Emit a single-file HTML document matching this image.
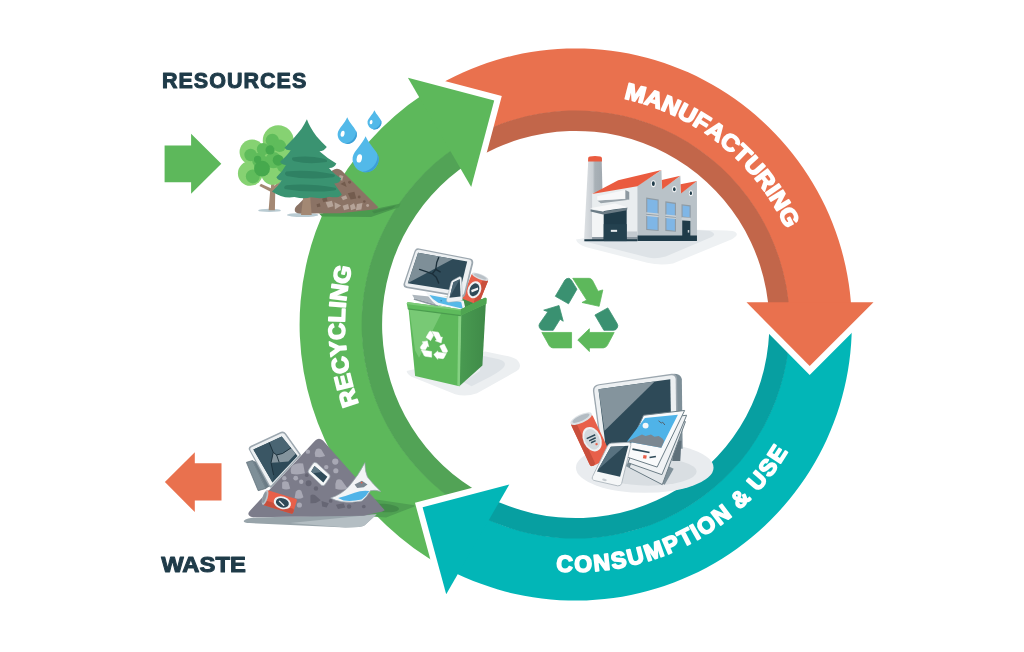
<!DOCTYPE html>
<html><head><meta charset="utf-8"><title>Recycling cycle</title>
<style>
html,body{margin:0;padding:0;background:#fff;}
body{width:1024px;height:652px;overflow:hidden;font-family:"Liberation Sans",sans-serif;}
svg{display:block;font-family:"Liberation Sans",sans-serif;filter:blur(0.45px);}
</style></head><body>
<svg width="1024" height="652" viewBox="0 0 1024 652">
<rect width="1024" height="652" fill="#fff"/>
<path d="M443.96,567.14 A276.1,276.1 0 0 1 423.31,94.26 L457.81,146.38 A213.6,213.6 0 0 0 473.78,512.22 Z" fill="#5DB85B"/>
<path d="M473.54,512.65 A214.1,214.1 0 0 1 457.53,145.97 L468.84,163.06 A193.6,193.6 0 0 0 483.32,494.64 Z" fill="#52A356"/>
<path d="M431.44,89.09 A276.1,276.1 0 0 1 851.42,310.05 L789.01,313.32 A213.6,213.6 0 0 0 464.09,142.38 Z" fill="#E9714E"/>
<path d="M463.83,141.95 A214.1,214.1 0 0 1 789.51,313.29 L769.03,314.37 A193.6,193.6 0 0 0 474.54,159.43 Z" fill="#C2664A"/>
<path d="M851.71,317.27 A276.1,276.1 0 0 1 448.21,569.40 L477.07,513.97 A213.6,213.6 0 0 0 789.23,318.91 Z" fill="#02B6B7"/>
<path d="M789.73,318.90 A214.1,214.1 0 0 1 476.84,514.41 L486.31,496.23 A193.6,193.6 0 0 0 769.23,319.43 Z" fill="#079FA1"/>
<!-- shadow of dirt pile on green band -->
<path d="M319,213.5 L377,208.6 L400.6,203.6 L399,207.2 L371,217 L322,216.6 Z" fill="#4A9A4E"/>
<path d="M372,211 L396,205.4 L392,208.4 L374,213.6 Z" fill="#438C49"/>
<!-- shadow of waste pile on green band -->
<path d="M366,498 L414.5,505.2 L414.5,506.6 L386,517.5 L366,516 Z" fill="#4FA052"/>
<ellipse cx="384" cy="508" rx="15" ry="4.2" fill="#438C49" transform="rotate(4 384 508)"/>

<polyline points="407.9,77.8 494.2,100.4 471.2,187.1" fill="none" stroke="#fff" stroke-width="12.4" stroke-linejoin="miter" stroke-miterlimit="10"/>
<polyline points="873.5,302.3 809.7,366.1 746.5,302.3" fill="none" stroke="#fff" stroke-width="12.4" stroke-linejoin="miter" stroke-miterlimit="10"/>
<polyline points="446.2,594.2 422.6,507.2 509.3,484.4" fill="none" stroke="#fff" stroke-width="12.4" stroke-linejoin="miter" stroke-miterlimit="10"/>
<polygon points="407.9,77.8 494.2,100.4 471.2,187.1" fill="#5DB85B"/>
<polygon points="873.5,302.3 809.7,366.1 746.5,302.3" fill="#E9714E"/>
<polygon points="446.2,594.2 422.6,507.2 509.3,484.4" fill="#02B6B7"/>
<text transform="translate(633.58,100.87) rotate(14.51) scale(1.0631,1)" text-anchor="middle" font-size="23.0" font-weight="700" fill="#fff" stroke="#fff" stroke-width="1.6" stroke-linejoin="round">M</text>
<text transform="translate(651.67,106.35) rotate(19.20) scale(1.0631,1)" text-anchor="middle" font-size="23.0" font-weight="700" fill="#fff" stroke="#fff" stroke-width="1.6" stroke-linejoin="round">A</text>
<text transform="translate(668.02,112.75) rotate(23.56) scale(1.0631,1)" text-anchor="middle" font-size="23.0" font-weight="700" fill="#fff" stroke="#fff" stroke-width="1.6" stroke-linejoin="round">N</text>
<text transform="translate(683.83,120.37) rotate(27.91) scale(1.0631,1)" text-anchor="middle" font-size="23.0" font-weight="700" fill="#fff" stroke="#fff" stroke-width="1.6" stroke-linejoin="round">U</text>
<text transform="translate(697.88,128.45) rotate(31.93) scale(1.0631,1)" text-anchor="middle" font-size="23.0" font-weight="700" fill="#fff" stroke="#fff" stroke-width="1.6" stroke-linejoin="round">F</text>
<text transform="translate(711.32,137.50) rotate(35.95) scale(1.0631,1)" text-anchor="middle" font-size="23.0" font-weight="700" fill="#fff" stroke="#fff" stroke-width="1.6" stroke-linejoin="round">A</text>
<text transform="translate(725.13,148.34) rotate(40.31) scale(1.0631,1)" text-anchor="middle" font-size="23.0" font-weight="700" fill="#fff" stroke="#fff" stroke-width="1.6" stroke-linejoin="round">C</text>
<text transform="translate(737.11,159.25) rotate(44.33) scale(1.0631,1)" text-anchor="middle" font-size="23.0" font-weight="700" fill="#fff" stroke="#fff" stroke-width="1.6" stroke-linejoin="round">T</text>
<text transform="translate(748.30,170.97) rotate(48.35) scale(1.0631,1)" text-anchor="middle" font-size="23.0" font-weight="700" fill="#fff" stroke="#fff" stroke-width="1.6" stroke-linejoin="round">U</text>
<text transform="translate(759.46,184.52) rotate(52.70) scale(1.0631,1)" text-anchor="middle" font-size="23.0" font-weight="700" fill="#fff" stroke="#fff" stroke-width="1.6" stroke-linejoin="round">R</text>
<text transform="translate(766.57,194.38) rotate(55.72) scale(1.0631,1)" text-anchor="middle" font-size="23.0" font-weight="700" fill="#fff" stroke="#fff" stroke-width="1.6" stroke-linejoin="round">I</text>
<text transform="translate(773.15,204.60) rotate(58.73) scale(1.0631,1)" text-anchor="middle" font-size="23.0" font-weight="700" fill="#fff" stroke="#fff" stroke-width="1.6" stroke-linejoin="round">N</text>
<text transform="translate(781.99,220.54) rotate(63.25) scale(1.0631,1)" text-anchor="middle" font-size="23.0" font-weight="700" fill="#fff" stroke="#fff" stroke-width="1.6" stroke-linejoin="round">G</text>
<text transform="translate(564.21,571.53) rotate(2.66) scale(0.9971,1)" text-anchor="middle" font-size="23.0" font-weight="700" fill="#fff" stroke="#fff" stroke-width="1.6" stroke-linejoin="round">C</text>
<text transform="translate(583.35,571.68) rotate(-1.77) scale(0.9971,1)" text-anchor="middle" font-size="23.0" font-weight="700" fill="#fff" stroke="#fff" stroke-width="1.6" stroke-linejoin="round">O</text>
<text transform="translate(602.46,570.35) rotate(-6.21) scale(0.9971,1)" text-anchor="middle" font-size="23.0" font-weight="700" fill="#fff" stroke="#fff" stroke-width="1.6" stroke-linejoin="round">N</text>
<text transform="translate(620.01,567.80) rotate(-10.32) scale(0.9971,1)" text-anchor="middle" font-size="23.0" font-weight="700" fill="#fff" stroke="#fff" stroke-width="1.6" stroke-linejoin="round">S</text>
<text transform="translate(637.33,564.00) rotate(-14.43) scale(0.9971,1)" text-anchor="middle" font-size="23.0" font-weight="700" fill="#fff" stroke="#fff" stroke-width="1.6" stroke-linejoin="round">U</text>
<text transform="translate(656.34,558.28) rotate(-19.03) scale(0.9971,1)" text-anchor="middle" font-size="23.0" font-weight="700" fill="#fff" stroke="#fff" stroke-width="1.6" stroke-linejoin="round">M</text>
<text transform="translate(674.19,551.34) rotate(-23.47) scale(0.9971,1)" text-anchor="middle" font-size="23.0" font-weight="700" fill="#fff" stroke="#fff" stroke-width="1.6" stroke-linejoin="round">P</text>
<text transform="translate(688.93,544.36) rotate(-27.25) scale(0.9971,1)" text-anchor="middle" font-size="23.0" font-weight="700" fill="#fff" stroke="#fff" stroke-width="1.6" stroke-linejoin="round">T</text>
<text transform="translate(698.89,538.93) rotate(-29.88) scale(0.9971,1)" text-anchor="middle" font-size="23.0" font-weight="700" fill="#fff" stroke="#fff" stroke-width="1.6" stroke-linejoin="round">I</text>
<text transform="translate(710.39,531.90) rotate(-33.00) scale(0.9971,1)" text-anchor="middle" font-size="23.0" font-weight="700" fill="#fff" stroke="#fff" stroke-width="1.6" stroke-linejoin="round">O</text>
<text transform="translate(726.03,520.86) rotate(-37.44) scale(0.9971,1)" text-anchor="middle" font-size="23.0" font-weight="700" fill="#fff" stroke="#fff" stroke-width="1.6" stroke-linejoin="round">N</text>
<text transform="translate(745.47,504.32) rotate(-43.35) scale(0.9971,1)" text-anchor="middle" font-size="23.0" font-weight="700" fill="#fff" stroke="#fff" stroke-width="1.6" stroke-linejoin="round">&amp;</text>
<text transform="translate(763.10,485.86) rotate(-49.27) scale(0.9971,1)" text-anchor="middle" font-size="23.0" font-weight="700" fill="#fff" stroke="#fff" stroke-width="1.6" stroke-linejoin="round">U</text>
<text transform="translate(774.19,472.01) rotate(-53.38) scale(0.9971,1)" text-anchor="middle" font-size="23.0" font-weight="700" fill="#fff" stroke="#fff" stroke-width="1.6" stroke-linejoin="round">S</text>
<text transform="translate(783.87,458.00) rotate(-57.33) scale(0.9971,1)" text-anchor="middle" font-size="23.0" font-weight="700" fill="#fff" stroke="#fff" stroke-width="1.6" stroke-linejoin="round">E</text>
<text transform="translate(355.99,395.82) rotate(252.02) scale(1.0221,1)" text-anchor="middle" font-size="23.0" font-weight="700" fill="#fff" stroke="#fff" stroke-width="1.6" stroke-linejoin="round">R</text>
<text transform="translate(351.48,380.05) rotate(256.08) scale(1.0221,1)" text-anchor="middle" font-size="23.0" font-weight="700" fill="#fff" stroke="#fff" stroke-width="1.6" stroke-linejoin="round">E</text>
<text transform="translate(348.10,364.00) rotate(260.15) scale(1.0221,1)" text-anchor="middle" font-size="23.0" font-weight="700" fill="#fff" stroke="#fff" stroke-width="1.6" stroke-linejoin="round">C</text>
<text transform="translate(345.87,347.75) rotate(264.22) scale(1.0221,1)" text-anchor="middle" font-size="23.0" font-weight="700" fill="#fff" stroke="#fff" stroke-width="1.6" stroke-linejoin="round">Y</text>
<text transform="translate(344.80,331.39) rotate(268.29) scale(1.0221,1)" text-anchor="middle" font-size="23.0" font-weight="700" fill="#fff" stroke="#fff" stroke-width="1.6" stroke-linejoin="round">C</text>
<text transform="translate(344.87,315.65) rotate(272.20) scale(1.0221,1)" text-anchor="middle" font-size="23.0" font-weight="700" fill="#fff" stroke="#fff" stroke-width="1.6" stroke-linejoin="round">L</text>
<text transform="translate(345.51,305.17) rotate(274.80) scale(1.0221,1)" text-anchor="middle" font-size="23.0" font-weight="700" fill="#fff" stroke="#fff" stroke-width="1.6" stroke-linejoin="round">I</text>
<text transform="translate(346.80,293.44) rotate(277.73) scale(1.0221,1)" text-anchor="middle" font-size="23.0" font-weight="700" fill="#fff" stroke="#fff" stroke-width="1.6" stroke-linejoin="round">N</text>
<text transform="translate(349.85,275.99) rotate(282.12) scale(1.0221,1)" text-anchor="middle" font-size="23.0" font-weight="700" fill="#fff" stroke="#fff" stroke-width="1.6" stroke-linejoin="round">G</text>
<text x="161.9" y="88.3" font-size="21.5" font-weight="700" fill="#1F3B49" stroke="#1F3B49" stroke-width="1" stroke-linejoin="round" textLength="144.4" lengthAdjust="spacing">RESOURCES</text>
<text x="161.2" y="572.3" font-size="21.5" font-weight="700" fill="#1F3B49" stroke="#1F3B49" stroke-width="1" stroke-linejoin="round" textLength="84.6" lengthAdjust="spacingAndGlyphs">WASTE</text>
<polygon points="164.6,145.4 191.1,145.4 191.1,133.7 221.3,163.8 191.1,193.7 191.1,182.2 164.6,182.2" fill="#5DB85B"/>
<polygon points="221.5,463.3 194.8,463.3 194.8,452.2 164.9,482.1 194.8,512.1 194.8,500.6 221.5,500.6" fill="#E9714E"/>
<g id="recycle"><g transform="translate(535,272) scale(0.13196)">
<g fill="#5DB85B" stroke="#5DB85B" stroke-width="6" stroke-linejoin="round">
<path d="M286,48 L412,48 Q428,50 436,64 L478,146 L514,136 L486,260 L356,231 L392,213 Z"/>
<path d="M52,458 L277,458 L277,575 L135,575 Q118,574 108,558 Z"/>
<path d="M324,515 L412,430 L412,458 L600,458 L548,556 Q538,574 518,575 L412,575 L412,603 Z"/>
</g>
<g fill="#3A9171" stroke="#3A9171" stroke-width="6" stroke-linejoin="round">
<path d="M154,184 L226,62 Q236,48 254,48 Q266,48 276,62 L318,130 L254,241 Z"/>
<path d="M182,254 L66,289 L98,301 L34,392 Q26,406 34,422 Q44,442 62,442 L138,442 L190,358 L214,373 Z"/>
<path d="M552,272 L622,390 Q632,406 624,422 Q614,442 596,442 L522,442 L454,326 Z"/>
</g>
</g>
</g>
<g id="trees"><g transform="translate(230,105) scale(0.184)">
<!-- ground shadows -->
<ellipse cx="215" cy="573" rx="62" ry="9" fill="#B9CBD2"/>
<ellipse cx="395" cy="598" rx="85" ry="11" fill="#B9CBD2"/>
<!-- deciduous tree trunk -->
<path d="M210,572 L218,470 L160,440 L168,428 L222,452 L226,395 L242,395 L242,440 L266,408 L276,416 L246,472 L244,572 Z" fill="#A38873"/>
<!-- light foliage -->
<g fill="#86D272">
<circle cx="262" cy="194" r="84"/><circle cx="120" cy="256" r="68"/><circle cx="110" cy="372" r="67"/>
<circle cx="232" cy="372" r="62"/><circle cx="190" cy="300" r="80"/><circle cx="300" cy="290" r="60"/>
</g>
<g fill="#5FBC5B">
<circle cx="112" cy="272" r="34"/><circle cx="124" cy="388" r="38"/><circle cx="230" cy="192" r="36"/>
<circle cx="270" cy="222" r="34"/><circle cx="160" cy="300" r="40"/><circle cx="236" cy="300" r="44"/><circle cx="180" cy="240" r="34"/>
<circle cx="290" cy="330" r="36"/>
</g>
<g fill="#46A94D">
<circle cx="174" cy="346" r="43"/><circle cx="218" cy="244" r="25"/><circle cx="262" cy="300" r="30"/><circle cx="150" cy="296" r="20"/>
</g>
<!-- dirt pile -->
<path d="M352,572 Q350,556 372,540 L556,356 Q582,338 606,356 L806,556 Q800,566 780,568 L600,588 L380,590 Q352,588 352,572 Z" fill="#8B7365"/>
<g fill="#B5A398">
<path d="M520,528 l34,-8 l8,30 l-30,8 z"/><path d="M568,528 l36,18 l-34,22 z"/><path d="M612,548 l30,-10 l6,26 l-28,8 z"/>
<path d="M652,546 l22,-12 l10,28 l-26,10 z"/><path d="M690,538 l30,-6 l-6,36 l-30,4 z"/><circle cx="748" cy="546" r="8"/>
<path d="M596,380 l20,6 l-6,26 l-20,-8 z"/><path d="M604,500 l26,-10 l8,18 l-24,10 z"/>
</g>
<g fill="#735C4E">
<path d="M640,480 l36,-8 l10,36 l-30,6 z"/><path d="M600,430 l24,-14 l10,30 z"/><circle cx="650" cy="420" r="8"/><circle cx="702" cy="500" r="8"/>
<path d="M500,510 l24,-10 l6,20 l-22,8 z"/><path d="M470,540 l18,-6 l4,18 l-18,4 z"/><circle cx="730" cy="524" r="7"/>
</g>
<!-- conifer trunk -->
<path d="M398,500 L436,500 L444,598 L386,598 Z" fill="#A38873"/>
<!-- conifer -->
<path d="M418,78 Q432,120 470,170 Q500,205 526,228 Q510,250 486,252 Q530,292 578,318 Q566,344 538,342 Q570,380 604,398 Q596,428 566,426 Q590,460 608,486 Q590,510 540,498 Q500,512 440,502 Q400,512 350,500 Q290,512 228,470 Q260,444 280,410 Q262,410 252,392 Q286,362 304,326 Q284,326 272,308 Q312,274 330,246 Q306,248 296,232 Q350,180 388,130 Q408,100 418,78 Z" fill="#3A9371"/>
<g fill="#2F8163">
<path d="M340,286 Q420,272 510,292 Q536,300 524,310 Q430,324 350,306 Q330,298 340,286 Z"/>
<path d="M306,362 Q420,348 562,376 Q580,386 560,392 Q430,410 308,386 Q290,374 306,362 Z"/>
<path d="M306,436 Q430,424 572,450 Q586,460 566,464 Q430,480 298,456 Q288,444 306,436 Z"/>
</g>
<!-- drops -->
<g>
<path d="M637,66 C650.5,99.5 683.3,125.8 688.5,151.8 A52,52 0 1 1 585.5,151.8 C590.7,125.8 623.5,99.5 637,66 Z" fill="#52B9E9"/>
<path d="M684.1,137.0 A52,52 0 0 1 623.5,209.2 A65.0,65.0 0 0 0 684.1,137.0 Z" fill="#3C9FD6"/>
<ellipse cx="612.0" cy="156.4" rx="10.4" ry="16.6" fill="#fff" transform="rotate(12 612.0 156.4)"/>
<path d="M785,28 C794.9,52.1 818.8,70.7 822.6,89.7 A38,38 0 1 1 747.4,89.7 C751.2,70.7 775.1,52.1 785,28 Z" fill="#52B9E9"/>
<path d="M819.4,78.9 A38,38 0 0 1 775.2,131.7 A47.5,47.5 0 0 0 819.4,78.9 Z" fill="#3C9FD6"/>
<ellipse cx="766.8" cy="93.1" rx="7.6" ry="12.2" fill="#fff" transform="rotate(12 766.8 93.1)"/>
<path d="M737,170 C755.5,214.6 800.2,248.6 807.3,284.1 A71,71 0 1 1 666.7,284.1 C673.8,248.6 718.5,214.6 737,170 Z" fill="#52B9E9"/>
<path d="M801.3,264.0 A71,71 0 0 1 718.6,362.6 A88.8,88.8 0 0 0 801.3,264.0 Z" fill="#3C9FD6"/>
<ellipse cx="702.9" cy="290.4" rx="14.2" ry="22.7" fill="#fff" transform="rotate(12 702.9 290.4)"/>
</g>
</g>
</g>
<g id="factory"><g transform="translate(570,145) scale(0.184)">
<defs>
<linearGradient id="chim" x1="0" x2="1" y1="0" y2="0"><stop offset="0" stop-color="#DDE1E4"/><stop offset="0.45" stop-color="#C9CED3"/><stop offset="0.55" stop-color="#A9B1B7"/><stop offset="1" stop-color="#A0A8AF"/></linearGradient>
</defs>
<!-- shadow -->
<path d="M32,514 Q40,540 90,556 L420,640 Q490,656 560,644 L880,512 Q920,490 900,474 Q890,464 850,464 L690,460 L120,500 Z" fill="#EEF1F3"/>
<path d="M70,522 L425,612 Q470,620 520,606 L770,500 Q800,484 760,468 L690,462 L120,505 Z" fill="#DEE3E7"/>
<!-- chimney -->
<path d="M100,70 L172,70 L183,520 L76,520 Z" fill="url(#chim)"/>
<path d="M99,70 Q99,60 136,60 Q173,60 173,70 L174,90 L98,90 Z" fill="#EA5B3F"/>
<!-- front wall -->
<path d="M120,262 L366,220 L366,520 L120,520 Z" fill="#E9EDEF"/>
<!-- side wall -->
<path d="M366,222 L497,137 L500,238 L600,168 L602,262 L690,196 L690,520 L366,520 Z" fill="#B9C2C8"/>
<!-- roofs -->
<path d="M120,266 L262,192 L497,136 L366,224 Z" fill="#EA5B3F"/>
<path d="M499,190 L600,167 L501,240 Z" fill="#EA5B3F"/>
<path d="M601,213 L690,195 L603,263 Z" fill="#EA5B3F"/>
<!-- dark base -->
<path d="M366,492 L690,492 L690,522 L366,522 Z" fill="#1F3B49"/>
<path d="M120,498 L366,498 L366,522 L120,522 Z" fill="#8C98A1"/>
<path d="M78,512 L366,512 L366,523 L78,523 Z" fill="#1F3B49"/>
<rect x="310" y="470" width="56" height="30" fill="#C3CAD0"/>
<!-- garage door -->
<path d="M183,345 L308,345 L308,522 L183,522 Z" fill="#1F3B49"/>
<path d="M183,430 L308,430 L308,522 L183,522 Z" fill="#24414F"/>
<rect x="222" y="461" width="34" height="11" fill="#E6EAED"/>
<!-- pillar -->
<path d="M120,355 L180,355 L180,500 L120,500 Z" fill="#F3F5F6"/>
<!-- canopy box -->
<path d="M300,244 L322,256 L322,298 L300,292 Z" fill="#8E99A1"/>
<path d="M148,302 L300,292 L322,298 L168,316 Z" fill="#9AA4AB"/>
<path d="M148,278 L300,244 L300,292 L148,302 Z" fill="#F7F8F9"/>
<!-- awning -->
<path d="M112,350 L180,362 L312,340 L310,354 L180,378 L112,362 Z" fill="#6B7C86"/>
<path d="M108,344 L245,318 L312,338 L178,360 Z" fill="#F7F8F9"/>
<!-- round windows -->
<ellipse cx="453" cy="210" rx="13" ry="19" fill="#F2F4F5"/><ellipse cx="453" cy="210" rx="8" ry="13" fill="#1F3B49"/>
<ellipse cx="567" cy="240" rx="12" ry="17" fill="#F2F4F5"/><ellipse cx="567" cy="240" rx="7" ry="11" fill="#1F3B49"/>
<ellipse cx="657" cy="262" rx="11" ry="16" fill="#F2F4F5"/><ellipse cx="657" cy="262" rx="6" ry="10" fill="#1F3B49"/>
<!-- windows -->
<path d="M414,286 L482,296 L482,468 L414,462 Z" fill="#8F9BA4"/>
<path d="M420,294 L476,302 L476,462 L420,456 Z" fill="#7FB6E6"/>
<path d="M414,366 L482,372 L482,392 L414,386 Z" fill="#C9D0D5"/><path d="M414,374 L482,380 L482,385 L414,379 Z" fill="#8F9BA4"/>
<path d="M518,306 L576,314 L576,472 L518,467 Z" fill="#8F9BA4"/>
<path d="M524,314 L570,321 L570,466 L524,461 Z" fill="#7FB6E6"/>
<path d="M518,378 L576,383 L576,402 L518,397 Z" fill="#C9D0D5"/><path d="M518,386 L576,391 L576,396 L518,391 Z" fill="#8F9BA4"/>
<path d="M606,322 L656,328 L656,400 L606,396 Z" fill="#8F9BA4"/>
<path d="M612,329 L650,334 L650,392 L612,389 Z" fill="#7FB6E6"/>
<path d="M606,392 L656,396 L656,410 L606,406 Z" fill="#C9D0D5"/>
<!-- door -->
<path d="M610,410 L654,413 L654,520 L610,520 Z" fill="#1F3B49"/>
<rect x="640" y="462" width="8" height="14" fill="#C9D0D5"/>
</g>
</g>
<g id="bin"><g transform="translate(395,235) scale(0.2455)">
<defs>
<linearGradient id="binside" x1="0" x2="1" y1="0" y2="0"><stop offset="0" stop-color="#499B51"/><stop offset="1" stop-color="#3F8A48"/></linearGradient>
</defs>
<!-- shadow -->
<path d="M 47.3,554.0 Q 50.1,570.7 78.0,581.9 L 245.0,648.7 Q 289.6,661.0 334.2,644.3 L 495.7,554.0 Q 520.7,536.2 501.2,512.8 Q 490.1,498.3 445.5,490.6 L 367.6,475.0 L 167.1,526.2 Z" fill="#ECEFF1"/>
<path d="M 356.4,491.7 L 423.3,506.1 Q 453.9,515.1 446.7,532.9 Q 440.0,549.6 389.8,576.3 L 311.9,616.4 L 278.5,598.6 L 345.3,554.0 Z" fill="#DEE3E7"/>
<!-- monitor stand -->
<path d="M70,243 L150,252 L175,285 L78,258 Z" fill="#AEB7BE"/>
<path d="M78,258 L175,285 L172,292 L76,264 Z" fill="#8D98A0"/>
<!-- inside back of bin -->
<path d="M170,285 L200,250 L370,262 L268,308 Z" fill="#3F8F48"/>
<!-- can -->
<g transform="translate(326,222) rotate(22)">
<rect x="-36" y="-58" width="72" height="112" rx="8" fill="#E8604A"/>
<rect x="14" y="-58" width="22" height="112" rx="8" fill="#C94F3C"/>
<ellipse cx="0" cy="-56" rx="36" ry="11" fill="#D9DEE2"/>
<ellipse cx="0" cy="-57" rx="28" ry="7" fill="#B9C1C7"/>
<ellipse cx="-2" cy="2" rx="27" ry="36" fill="#F0F2F4"/>
<ellipse cx="-2" cy="2" rx="19" ry="27" fill="#2E4A58"/>
<path d="M-14,8 L8,-12 L12,-4 L-8,16 Z" fill="#F0F2F4"/>
</g>
<!-- blue paper -->
<path d="M126,232 L212,252 L280,268 L290,316 L226,296 L168,284 Q140,262 126,232 Z" fill="#F4F6F8"/>
<path d="M140,244 L210,258 L270,274 L276,300 L226,288 L176,276 Q152,262 140,244 Z" fill="#56B9E8"/>
<circle cx="188" cy="268" r="3" fill="#3A7FA8"/>
<!-- monitor -->
<path d="M98,55 L306,96 Q322,100 318,118 L286,244 Q282,256 266,254 L46,216 Q30,212 36,196 L80,64 Q86,52 98,55 Z" fill="#9CA7AF"/>
<path d="M98,60 L302,100 Q314,103 311,116 L281,238 Q278,248 266,246 L50,210 Q38,207 42,196 L84,68 Q88,58 98,60 Z" fill="#EDF0F2"/>
<path d="M94,72 L294,108 L264,230 L52,197 Z" fill="#2E4A58"/>
<path d="M94,72 L236,98 L53,196 Z" fill="#7E8F98"/>
<path d="M178,92 L170,112 L166,140 L152,158 L130,150 L100,140 M152,158 L168,172 L178,196 M166,140 L184,150" fill="none" stroke="#1B2F3A" stroke-width="5.5" stroke-linejoin="round" stroke-linecap="round"/>
<!-- phone -->
<path d="M236,184 L262,170 Q270,168 271,176 L275,262 Q275,268 268,269 L218,274 Q208,274 210,264 L228,194 Q230,187 236,184 Z" fill="#EEF1F3" stroke="#A9B3BA" stroke-width="2"/>
<path d="M238,192 L264,180 L267,250 L222,256 Z" fill="#2E4A58"/>
<path d="M238,192 L264,180 L225,250 L222,256 Z" fill="#4A6573"/>
<!-- bin front -->
<path d="M55,298 L268,325 L262,616 L82,574 Z" fill="#5DB85B"/>
<path d="M58,300 L190,316 L98,500 L82,470 Z" fill="#78C975"/>
<!-- bin side -->
<path d="M268,325 L370,279 L356,532 L262,616 Z" fill="url(#binside)"/>
<path d="M258,324 L270,326 L264,616 L254,613 Z" fill="#85D182"/>
<!-- rim -->
<path d="M48,280 Q47,272 56,274 L268,302 L366,256 Q374,254 373,262 L372,280 L268,328 L52,300 Z" fill="#5EBB5C"/>
<path d="M268,302 L366,256 Q374,254 373,262 L372,280 L268,328 Z" fill="#4FA552"/>
<path d="M48,280 Q47,272 56,274 L268,302 L268,308 L50,282 Z" fill="#7CCB78"/>
<path d="M52,298 L268,326 L268,331 L53,303 Z" fill="#4A9C4E"/>
<!-- recycle symbol (white) -->
<g transform="translate(98,376) scale(0.185,0.2) skewY(7)" fill="#fff" stroke="#fff" stroke-width="10" stroke-linejoin="round">
<path d="M286,48 L412,48 Q428,50 436,64 L478,146 L514,136 L486,260 L356,231 L392,213 Z"/>
<path d="M52,458 L277,458 L277,575 L135,575 Q118,574 108,558 Z"/>
<path d="M324,515 L412,430 L412,458 L600,458 L548,556 Q538,574 518,575 L412,575 L412,603 Z"/>
<path d="M154,184 L226,62 Q236,48 254,48 Q266,48 276,62 L318,130 L254,241 Z"/>
<path d="M182,254 L66,289 L98,301 L34,392 Q26,406 34,422 Q44,442 62,442 L138,442 L190,358 L214,373 Z"/>
<path d="M552,272 L622,390 Q632,406 624,422 Q614,442 596,442 L522,442 L454,326 Z"/>
</g>
</g>
</g>
<g id="devices"><g transform="translate(565,365) scale(0.1994)">
<!-- shadow -->
<ellipse cx="400" cy="515" rx="345" ry="126" fill="#E9ECEF"/>
<ellipse cx="420" cy="535" rx="240" ry="70" fill="#D9DEE2"/>
<!-- monitor side / back -->
<path d="M545,44 Q580,44 586,70 L590,420 L560,420 Z" fill="#7E8F98"/>
<!-- monitor stand -->
<path d="M290,500 L470,585 L500,600 L545,520 L420,460 Z" fill="#7E8F98"/>
<!-- monitor frame -->
<path d="M170,96 L535,44 Q560,42 562,68 L566,420 L180,420 L140,130 Q138,102 170,96 Z" fill="#9CA7AF"/>
<path d="M172,102 L533,51 Q553,50 555,70 L559,420 L186,420 L147,130 Q146,108 172,102 Z" fill="#EDF0F2"/>
<path d="M168,122 L528,72 L534,420 L205,420 Z" fill="#2E4A58"/>
<path d="M168,122 L450,83 L198,330 Z" fill="#84949D"/>
<!-- monitor neck -->
<path d="M538,380 L584,380 L578,482 L538,482 Z" fill="#5F707A"/>
<!-- magazine pages -->
<path d="M402,300 L604,284 L488,600 L322,514 Z" fill="#E3E7EA" stroke="#6B7C86" stroke-width="5" stroke-linejoin="round"/>
<path d="M398,276 L610,252 L486,550 L316,490 Z" fill="#F1F3F5" stroke="#6B7C86" stroke-width="5" stroke-linejoin="round"/>
<path d="M394,252 L600,228 L462,512 L300,458 Z" fill="#F9FAFB" stroke="#6B7C86" stroke-width="5" stroke-linejoin="round"/>
<path d="M401,266 L566,249 L483,415 L311,384 Z" fill="#4FB3E8"/>
<path d="M311,384 L386,349 L404,356 L431,349 L449,360 L470,356 L490,370 L497,381 L483,415 Z" fill="#7B8791"/>
<circle cx="404" cy="304" r="15" fill="#F4F8FA"/>
<path d="M469,280 L483,291 L490,287 L501,301" fill="none" stroke="#55626C" stroke-width="5"/>
<path d="M338,422 L424,439" stroke="#2E4A58" stroke-width="8"/>
<rect x="392" y="452" width="17" height="17" fill="#E8604A" transform="rotate(10 400 460)"/>
<path d="M424,464 L456,459" stroke="#2E4A58" stroke-width="8"/>
<!-- can -->
<g transform="translate(128,370) rotate(-25) scale(1.07)">
<rect x="-55" y="-105" width="110" height="225" rx="14" fill="#E8604A"/>
<rect x="-55" y="-105" width="26" height="225" rx="12" fill="#C94F3C"/>
<ellipse cx="0" cy="-104" rx="55" ry="20" fill="#DDE2E5"/>
<ellipse cx="0" cy="-106" rx="44" ry="13" fill="#B3BCC3"/>
<ellipse cx="6" cy="5" rx="42" ry="60" fill="#EEF1F3"/>
<ellipse cx="6" cy="5" rx="34" ry="50" fill="#D3D9DD"/>
<path d="M-16,-8 L28,-8 M-10,6 L24,6 M-6,18 L18,18" stroke="#2E4A58" stroke-width="7"/>
<rect x="10" y="30" width="10" height="9" fill="#E8604A"/>
</g>
<!-- phone -->
<path d="M232,392 L318,388 Q334,388 330,404 L284,594 Q280,608 264,606 L150,580 Q132,576 138,560 L212,408 Q220,392 232,392 Z" fill="#F5F7F8" stroke="#A3ADB5" stroke-width="4"/>
<path d="M230,410 L318,405 L276,560 L160,534 Z" fill="#2E4A58"/>
<path d="M230,410 L300,406 L166,524 L160,534 Z" fill="#587280"/>
<ellipse cx="198" cy="576" rx="12" ry="6" fill="#C5CBD0" transform="rotate(12 198 576)"/>
</g>
</g>
<g id="waste"><g transform="translate(235,420) scale(0.184)">
<!-- ground shadow -->
<path d="M48,548 Q60,532 120,530 L770,512 L705,572 Q690,584 600,584 L80,560 Q44,560 48,548 Z" fill="#98A4AA"/>
<path d="M300,560 L770,512 L705,572 Q690,584 600,584 Z" fill="#B4BEC3"/>
<!-- monitor stand -->
<path d="M62,230 L96,220 L168,372 L126,384 Z" fill="#7E8F98" stroke="#5F707A" stroke-width="4"/>
<path d="M96,220 L120,230 L190,360 L168,372 Z" fill="#6B7C86"/>
<!-- monitor -->
<path d="M86,140 L250,64 Q266,58 276,72 L360,190 L200,366 Q190,372 184,360 L76,162 Q70,148 86,140 Z" fill="#9CA7AF"/>
<path d="M90,148 L250,73 Q262,68 270,78 L350,190 L198,354 Q192,360 188,352 L84,164 Q80,152 90,148 Z" fill="#EDF0F2"/>
<path d="M100,160 L254,90 L340,196 L204,340 Z" fill="#2E4A58"/>
<path d="M100,160 L186,122 L208,176 L196,232 L210,300 L204,340 Z" fill="#3A5664"/>
<path d="M208,176 L226,190 L258,182 L304,152 L330,184 L290,226 L240,230 L196,232 Z" fill="#84949D"/>
<path d="M186,122 L254,90 L304,152 L258,182 L226,190 L208,176 Z" fill="#4A6573"/>
<path d="M186,122 L208,176 L196,232 L210,300 M208,176 L226,190 L258,182 L304,152 M226,190 L240,230" fill="none" stroke="#1B2F3A" stroke-width="5" stroke-linejoin="round"/>
<!-- pile -->
<path d="M78,520 Q66,510 80,494 L436,112 Q456,92 478,112 L814,490 Q800,500 780,502 L700,520 L100,528 Q84,528 78,520 Z" fill="#7C7C8A"/>
<g fill="#A8A8B4">
<path d="M440,160 Q456,150 470,162 L490,196 Q470,206 436,200 Q428,180 440,160 Z"/>
<path d="M310,250 Q330,230 370,236 L380,290 Q340,300 306,292 Q298,270 310,250 Z"/>
<circle cx="545" cy="226" r="17"/><circle cx="548" cy="276" r="14"/><circle cx="396" cy="172" r="12"/>
<path d="M552,326 Q566,316 580,328 L612,372 Q580,384 546,374 Q540,350 552,326 Z"/>
<path d="M256,340 Q270,328 290,338 L300,372 Q280,384 256,372 Z"/>
<path d="M330,390 Q344,372 360,384 L372,420 Q350,434 324,424 Z"/>
<circle cx="268" cy="316" r="12"/><circle cx="350" cy="462" r="14"/><circle cx="496" cy="256" r="12"/><circle cx="330" cy="316" r="13"/>
<circle cx="360" cy="336" r="12"/>
</g>
<g fill="#666674">
<path d="M410,410 Q420,400 434,408 L466,436 Q440,456 410,452 Z"/>
<path d="M470,440 L510,452 L498,476 L474,470 Z"/><circle cx="400" cy="344" r="16"/><circle cx="440" cy="372" r="12"/>
<path d="M548,460 L590,452 L600,476 L560,484 Z"/><circle cx="620" cy="470" r="12"/><circle cx="390" cy="300" r="10"/>
<circle cx="520" cy="440" r="10"/><circle cx="650" cy="440" r="12"/><circle cx="700" cy="470" r="10"/>
</g>
<!-- can -->
<g transform="translate(244,446) rotate(17)">
<rect x="-86" y="-42" width="172" height="84" rx="10" fill="#E8604A"/>
<rect x="-86" y="14" width="172" height="28" rx="10" fill="#C94F3C"/>
<ellipse cx="-84" cy="0" rx="14" ry="42" fill="#B9C1C7"/>
<ellipse cx="-88" cy="0" rx="9" ry="32" fill="#8D98A0"/>
<ellipse cx="14" cy="0" rx="48" ry="34" fill="#EEF1F3"/>
<ellipse cx="14" cy="0" rx="36" ry="25" fill="#2E4A58"/>
<path d="M-4,-8 L30,10 L26,16 L-8,-2 Z" fill="#EEF1F3"/>
</g>
<!-- phone -->
<path d="M424,236 Q432,226 444,234 L512,296 Q520,304 514,314 L488,352 Q480,360 470,354 L402,290 Q394,282 400,272 Z" fill="#F5F7F8" stroke="#A3ADB5" stroke-width="4"/>
<path d="M432,250 L502,308 L480,340 L414,280 Z" fill="#2E4A58"/>
<path d="M432,250 L470,282 L424,290 L414,280 Z" fill="#5E7784"/>
<!-- crumpled paper -->
<path d="M520,424 Q580,404 620,360 Q672,300 706,232 Q706,280 720,310 Q750,350 792,388 Q760,378 736,384 Q716,420 690,440 Q640,452 580,444 Q548,440 520,424 Z" fill="#F2F4F6" stroke="#9AA5AD" stroke-width="4" stroke-linejoin="round"/>
<path d="M560,424 Q610,412 650,396 Q690,380 730,386 Q712,416 688,432 Q640,444 590,438 Z" fill="#4FB3E8"/>
<path d="M650,350 L690,330 L720,350 L700,366 L664,370 Z" fill="#7B8791"/>
<circle cx="688" cy="340" r="5" fill="#E8604A"/>
</g>
</g>

</svg>
</body></html>
